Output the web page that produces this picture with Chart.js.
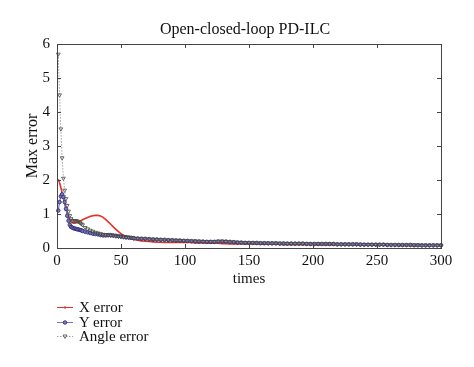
<!DOCTYPE html>
<html>
<head>
<meta charset="utf-8">
<script src="https://cdn.jsdelivr.net/npm/chart.js@4/dist/chart.umd.min.js"></script>
<style>
html,body{margin:0;padding:0;background:#fff;}
#wrap{position:relative;width:474px;height:367px;}
#legend{position:absolute;left:56px;top:300px;font-family:"Liberation Serif",serif;font-size:15px;color:#111;line-height:14.5px;}
.item{display:flex;align-items:center;height:14.5px;}
.item canvas{margin-right:5px;}
</style>
</head>
<body>
<div id="wrap">
<canvas id="c" width="474" height="367"></canvas>
<div id="legend"></div>
</div>
<script>
const titleText = "Open-closed-loop PD-ILC";
const xTitle = "times";
const yTitle = "Max error";
const seriesNames = ["X error", "Y error", "Angle error"];
const xTicks = [0, 50, 100, 150, 200, 250, 300];
const yTicks = [0, 1, 2, 3, 4, 5, 6];

const iters = [1,2,3,4,5,6,7,8,9,10,11,12,13,14,15,16,17,18,19,20,
22,24,26,28,30,32,34,36,38,40,42,44,46,48,50,52,54,56,58,60,
63,66,69,72,75,78,81,84,87,90,93,96,99,102,105,108,111,114,117,120,
123,126,129,132,135,138,141,144,147,150,153,156,159,162,165,168,171,174,177,180,
183,186,189,192,195,198,201,204,207,210,213,216,219,222,225,228,231,234,237,240,
243,246,249,252,255,258,261,264,267,270,273,276,279,282,285,288,291,294,297,300];

const xError = [2.02,1.92,1.78,1.62,1.46,1.3,1.15,1.02,0.9,0.81,0.76,0.74,0.73,0.73,0.74,0.75,0.77,0.79,0.81,0.83,
0.87,0.9,0.93,0.95,0.96,0.96,0.94,0.9,0.84,0.77,0.7,0.62,0.55,0.48,0.42,0.37,0.33,0.3,0.27,0.25,
0.23,0.21,0.2,0.19,0.18,0.17,0.17,0.16,0.16,0.16,0.16,0.16,0.16,0.16,0.16,0.15,0.15,0.15,0.14,0.14,
0.14,0.14,0.13,0.13,0.12,0.12,0.12,0.12,0.12,0.12,0.12,0.11,0.11,0.11,0.11,0.11,0.11,0.11,0.1,0.1,
0.1,0.1,0.1,0.1,0.1,0.1,0.09,0.09,0.09,0.09,0.09,0.09,0.09,0.09,0.09,0.09,0.09,0.08,0.08,0.08,
0.08,0.08,0.08,0.08,0.08,0.08,0.08,0.08,0.07,0.07,0.07,0.07,0.07,0.07,0.07,0.07,0.07,0.07,0.07,0.07];

const yError = [1.1,1.35,1.52,1.58,1.5,1.35,1.15,0.95,0.8,0.68,0.62,0.6,0.58,0.57,0.56,0.55,0.54,0.53,0.52,0.5,
0.48,0.46,0.44,0.42,0.41,0.4,0.38,0.37,0.37,0.38,0.38,0.37,0.36,0.35,0.34,0.33,0.32,0.31,0.3,0.29,
0.28,0.27,0.27,0.26,0.25,0.25,0.24,0.24,0.23,0.23,0.22,0.22,0.21,0.21,0.2,0.2,0.19,0.19,0.18,0.18,
0.18,0.19,0.19,0.19,0.18,0.17,0.16,0.16,0.15,0.15,0.15,0.15,0.14,0.14,0.14,0.14,0.14,0.13,0.13,0.13,
0.13,0.13,0.13,0.13,0.12,0.12,0.12,0.12,0.12,0.12,0.12,0.12,0.11,0.11,0.11,0.11,0.11,0.11,0.1,0.1,
0.1,0.1,0.1,0.1,0.1,0.09,0.09,0.09,0.09,0.09,0.09,0.09,0.08,0.08,0.08,0.08,0.08,0.08,0.08,0.08];

const angleError = [5.7,4.5,3.5,2.65,2.05,1.7,1.45,1.25,1.08,0.95,0.86,0.81,0.8,0.8,0.8,0.79,0.77,0.74,0.71,0.68,
0.6,0.56,0.52,0.49,0.46,0.44,0.42,0.4,0.39,0.38,0.37,0.36,0.35,0.34,0.33,0.32,0.31,0.31,0.3,0.29,
0.28,0.28,0.27,0.26,0.26,0.25,0.25,0.24,0.24,0.23,0.23,0.22,0.22,0.21,0.21,0.2,0.2,0.19,0.19,0.19,
0.19,0.2,0.2,0.19,0.18,0.18,0.17,0.16,0.16,0.16,0.15,0.15,0.15,0.15,0.14,0.14,0.14,0.14,0.14,0.13,
0.13,0.13,0.13,0.13,0.13,0.12,0.12,0.12,0.12,0.12,0.12,0.12,0.11,0.11,0.11,0.11,0.11,0.11,0.11,0.1,
0.1,0.1,0.1,0.1,0.1,0.1,0.09,0.09,0.09,0.09,0.09,0.09,0.09,0.09,0.08,0.08,0.08,0.08,0.08,0.08];

const FONT = "'Liberation Serif', 'Times New Roman', serif";

function pts(arr){ return iters.map((x,i)=>({x:x,y:arr[i]})); }

const styles = [
  {color:'#e53228', point:'line', pr:0, pb:'#e53228', pf:'#e53228', dash:[], width:1.6},
  {color:'#7a74d0', point:'circle', pr:1.8, pb:'#2a2870', pf:'#7a76c0', dash:[], width:1.2},
  {color:'#a0a0a0', point:'triangle', pr:2.2, pb:'#4a4a44', pf:'rgba(255,255,255,0)', dash:[1.5,1.5], width:1}
];
const data = [xError, yError, angleError];

const datasets = data.map((arr,i)=>({
  label: seriesNames[i],
  data: pts(arr),
  borderColor: styles[i].color,
  backgroundColor: styles[i].pf,
  borderWidth: styles[i].width,
  borderDash: styles[i].dash,
  pointStyle: styles[i].point === 'line' ? 'circle' : styles[i].point,
  pointRadius: styles[i].pr,
  pointRotation: i===2 ? 180 : 0,
  pointBorderColor: styles[i].pb,
  pointBackgroundColor: styles[i].pf,
  pointBorderWidth: 0.8,
  tension: 0,
  clip: false,
  order: 3-i
}));

const boxPlugin = {
  id:'box',
  afterDraw(chart){
    const {ctx, chartArea:a, scales} = chart;
    ctx.save();
    ctx.strokeStyle = '#444';
    ctx.lineWidth = 1;
    ctx.strokeRect(a.left+0.5, a.top+0.5, a.right-a.left, a.bottom-a.top);
    const L = 4;
    ctx.beginPath();
    xTicks.forEach(v=>{
      const px = Math.round(scales.x.getPixelForValue(v))+0.5;
      ctx.moveTo(px, a.bottom); ctx.lineTo(px, a.bottom-L);
      ctx.moveTo(px, a.top); ctx.lineTo(px, a.top+L);
    });
    yTicks.forEach(v=>{
      const py = Math.round(scales.y.getPixelForValue(v))+0.5;
      ctx.moveTo(a.left, py); ctx.lineTo(a.left+L, py);
      ctx.moveTo(a.right, py); ctx.lineTo(a.right-L, py);
    });
    ctx.stroke();
    ctx.fillStyle = '#111';
    ctx.font = "16px " + FONT;
    ctx.textAlign = 'center';
    ctx.textBaseline = 'middle';
    ctx.fillText(titleText, (a.left+a.right)/2 - 4, 30);
    ctx.restore();
  }
};

new Chart(document.getElementById('c'), {
  type:'line',
  data:{datasets},
  options:{
    responsive:false,
    animation:false,
    layout:{padding:{left:14, right:33, top:44, bottom:79}},
    plugins:{legend:{display:false}, tooltip:{enabled:false}, title:{display:false}},
    scales:{
      x:{
        type:'linear', min:0, max:300,
        afterBuildTicks(s){ s.ticks = xTicks.map(v=>({value:v})); },
        afterFit(s){ s.height = 40; },
        grid:{display:false, drawTicks:false},
        border:{display:false},
        ticks:{padding:4, color:'#111', font:{family:FONT, size:15}, maxRotation:0},
        title:{display:true, text:xTitle, color:'#111', font:{family:FONT, size:15}, padding:{top:0,bottom:0}}
      },
      y:{
        type:'linear', min:0, max:6,
        afterBuildTicks(s){ s.ticks = yTicks.map(v=>({value:v})); },
        afterFit(s){ s.width = 43; },
        grid:{display:false, drawTicks:false},
        border:{display:false},
        ticks:{padding:7, color:'#111', font:{family:FONT, size:15}},
        title:{display:true, text:yTitle, color:'#111', font:{family:FONT, size:16}, padding:{top:9,bottom:0}}
      }
    }
  },
  plugins:[boxPlugin]
});

// HTML legend
const leg = document.getElementById('legend');
seriesNames.forEach((name,i)=>{
  const d = document.createElement('div'); d.className='item';
  const c = document.createElement('canvas'); c.width=18; c.height=10;
  const g = c.getContext('2d');
  g.strokeStyle = styles[i].color; g.lineWidth = 1;
  g.setLineDash(styles[i].dash);
  g.beginPath(); g.moveTo(1,5.5); g.lineTo(17,5.5); g.stroke();
  g.setLineDash([]);
  g.fillStyle = styles[i].pf; g.strokeStyle = styles[i].pb; g.lineWidth=0.8;
  if(i===0){ g.fillStyle=styles[0].color; g.fillRect(8,4.5,2,2); }
  else if(i===1){ g.beginPath(); g.arc(9,5.5,1.8,0,Math.PI*2); g.fill(); g.stroke(); }
  else { g.beginPath(); g.moveTo(7,4); g.lineTo(11,4); g.lineTo(9,7.5); g.closePath(); g.fill(); g.stroke(); }
  const t = document.createElement('span'); t.textContent = name;
  d.appendChild(c); d.appendChild(t); leg.appendChild(d);
});
</script>
</body>
</html>
